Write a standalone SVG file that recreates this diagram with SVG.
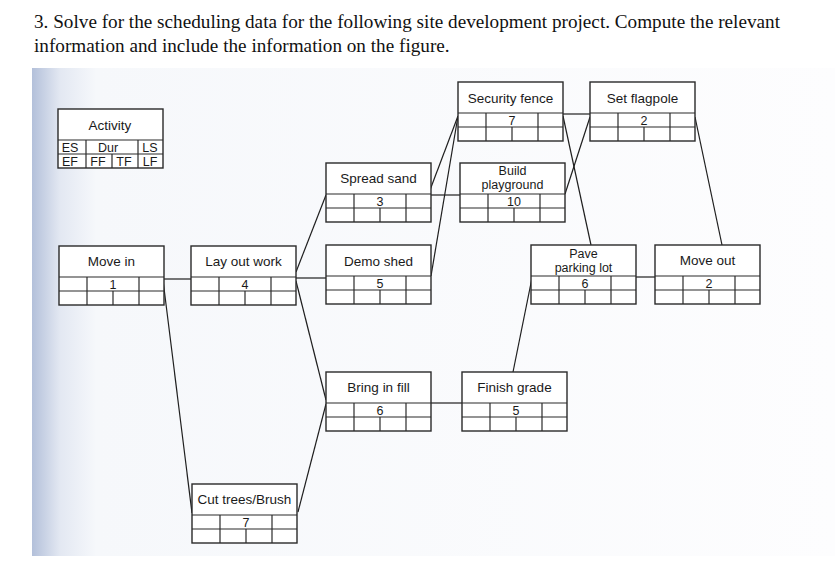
<svg xmlns="http://www.w3.org/2000/svg" xmlns:xlink="http://www.w3.org/1999/xlink" width="835" height="584" viewBox="0 0 835 584">
  <style>
    .q { font-family: "Liberation Serif", "Times New Roman", serif; font-size: 19.2px; fill: #111; }
    .t { font-family: "Liberation Sans", Arial, sans-serif; font-size: 13.5px; fill: #1a1a1a; text-anchor: middle; }
    .t2 { font-family: "Liberation Sans", Arial, sans-serif; font-size: 12.5px; fill: #1a1a1a; text-anchor: middle; }
    .n { font-family: "Liberation Sans", Arial, sans-serif; font-size: 12.5px; fill: #1a1a1a; text-anchor: middle; }
    .box { fill: #ffffff; stroke: #2a2a2a; stroke-width: 1.4; }
    .div { stroke: #2a2a2a; stroke-width: 1.2; }
    .con line { stroke: #1f1f1f; stroke-width: 1.2; fill: none; }
  </style>
  <defs>
    <linearGradient id="bg" x1="0" y1="0" x2="1" y2="0">
      <stop offset="0" stop-color="#b3c0da"/>
      <stop offset="0.035" stop-color="#e3e8f2"/>
      <stop offset="0.08" stop-color="#f6f8fb"/>
      <stop offset="1" stop-color="#fdfdfe"/>
    </linearGradient>
    <g id="grid">
      <rect class="box" x="0" y="0" width="105" height="59"/>
      <line class="div" x1="0" y1="31" x2="105" y2="31"/>
      <line class="div" x1="0" y1="45" x2="105" y2="45"/>
      <line class="div" x1="28" y1="31" x2="28" y2="59"/>
      <line class="div" x1="80" y1="31" x2="80" y2="59"/>
      <line class="div" x1="54" y1="45" x2="54" y2="59"/>
    </g>
  </defs>

  <rect x="0" y="0" width="835" height="584" fill="#ffffff"/>
  <rect x="32" y="68" width="803" height="488" fill="url(#bg)"/>

  <text class="q" x="34" y="28">3. Solve for the scheduling data for the following site development project. Compute the relevant</text>
  <text class="q" x="34" y="52">information and include the information on the figure.</text>

  <g id="connectors" class="con">
    <line x1="163" y1="279" x2="191" y2="279"/>
    <line x1="163" y1="280" x2="192" y2="513"/>
    <line x1="296" y1="272" x2="326" y2="195"/>
    <line x1="296" y1="278" x2="326" y2="278"/>
    <line x1="296" y1="281" x2="326" y2="400"/>
    <line x1="298" y1="512" x2="326" y2="404"/>
    <line x1="430" y1="190" x2="458" y2="116"/>
    <line x1="430" y1="195" x2="460" y2="195"/>
    <line x1="431" y1="276" x2="458" y2="116"/>
    <line x1="563" y1="114" x2="590" y2="114"/>
    <line x1="563" y1="116" x2="591" y2="245"/>
    <line x1="565" y1="194" x2="590" y2="117"/>
    <line x1="695" y1="117" x2="722" y2="245"/>
    <line x1="636" y1="277" x2="655" y2="277"/>
    <line x1="513" y1="372" x2="532" y2="278"/>
    <line x1="431" y1="403" x2="462" y2="403"/>
  </g>

  <g id="legend" transform="translate(58,109)">
    <use xlink:href="#grid"/>
    <text class="t" x="52" y="21">Activity</text>
    <text class="n" x="12" y="43">ES</text>
    <text class="n" x="50" y="43">Dur</text>
    <text class="n" x="92" y="43">LS</text>
    <text class="n" x="12" y="57">EF</text>
    <text class="n" x="40" y="57">FF</text>
    <text class="n" x="66" y="57">TF</text>
    <text class="n" x="92" y="57">LF</text>
  </g>

  <g id="security-fence" transform="translate(458,82)">
    <use xlink:href="#grid"/>
    <text class="t" x="52.5" y="21">Security fence</text>
    <text class="n" x="54" y="43">7</text>
  </g>

  <g id="set-flagpole" transform="translate(590,82)">
    <use xlink:href="#grid"/>
    <text class="t" x="52.5" y="21">Set flagpole</text>
    <text class="n" x="54" y="43">2</text>
  </g>

  <g id="spread-sand" transform="translate(326,163)">
    <use xlink:href="#grid"/>
    <text class="t" x="52.5" y="20">Spread sand</text>
    <text class="n" x="54" y="43">3</text>
  </g>

  <g id="build-playground" transform="translate(460,163)">
    <use xlink:href="#grid"/>
    <text class="t2" x="52.5" y="12">Build</text>
    <text class="t2" x="52.5" y="26">playground</text>
    <text class="n" x="54" y="43">10</text>
  </g>

  <g id="move-in" transform="translate(59,246)">
    <use xlink:href="#grid"/>
    <text class="t" x="52.5" y="20">Move in</text>
    <text class="n" x="54" y="43">1</text>
  </g>

  <g id="lay-out-work" transform="translate(191,246)">
    <use xlink:href="#grid"/>
    <text class="t" x="52.5" y="20">Lay out work</text>
    <text class="n" x="54" y="43">4</text>
  </g>

  <g id="demo-shed" transform="translate(326,245)">
    <use xlink:href="#grid"/>
    <text class="t" x="52.5" y="21">Demo shed</text>
    <text class="n" x="54" y="43">5</text>
  </g>

  <g id="pave-parking-lot" transform="translate(531,245)">
    <use xlink:href="#grid"/>
    <text class="t2" x="52.5" y="12.5">Pave</text>
    <text class="t2" x="52.5" y="26.5">parking lot</text>
    <text class="n" x="54" y="42.5">6</text>
  </g>

  <g id="move-out" transform="translate(655,245)">
    <use xlink:href="#grid"/>
    <text class="t" x="52.5" y="20">Move out</text>
    <text class="n" x="54" y="43">2</text>
  </g>

  <g id="bring-in-fill" transform="translate(326,372)">
    <use xlink:href="#grid"/>
    <text class="t" x="52.5" y="20">Bring in fill</text>
    <text class="n" x="54" y="43">6</text>
  </g>

  <g id="finish-grade" transform="translate(462,372)">
    <use xlink:href="#grid"/>
    <text class="t" x="52.5" y="20">Finish grade</text>
    <text class="n" x="54" y="43">5</text>
  </g>

  <g id="cut-trees-brush" transform="translate(192,484)">
    <use xlink:href="#grid"/>
    <text class="t" x="52.5" y="20">Cut trees/Brush</text>
    <text class="n" x="54" y="43">7</text>
  </g>
</svg>
